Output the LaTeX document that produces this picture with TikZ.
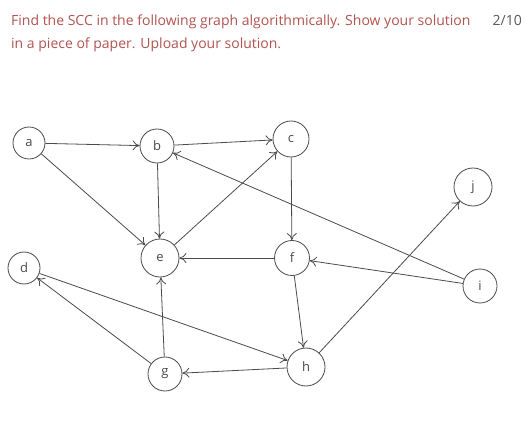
\documentclass[tikz,border=0pt]{standalone}
\usepackage{fontspec}
\setmainfont{Open Sans}
\usetikzlibrary{arrows.meta}
\definecolor{qred}{RGB}{178,84,80}
\definecolor{qgray}{RGB}{90,90,90}
\definecolor{ink}{RGB}{75,75,75}
\begin{document}
\begin{tikzpicture}[x=1pt,y=-1pt,
  vert/.style={circle,draw=ink,line width=0.8pt,inner sep=0pt,text=ink,font=\fontsize{13}{13}\selectfont},
  edge/.style={draw=ink,line width=0.8pt,-{To[length=7pt,width=10pt]}},
  qtext/.style={anchor=base west,inner sep=0pt,font=\fontsize{14}{15}\selectfont}]
\useasboundingbox[fill=white] (0,0) rectangle (530,438);
\node[qtext,text=qred] (t1) at (11,26) {Find the SCC in the following graph algorithmically. Show your solution};
\node[qtext,text=qgray,anchor=base east] (t2) at (522,26) {2/10};
\node[qtext,text=qred] (t3) at (11,49) {in a piece of paper. Upload your solution.};
\node[vert,minimum size=32pt] (a) at (29,143) {a};
\node[vert,minimum size=34pt] (b) at (157,146) {b};
\node[vert,minimum size=36pt] (c) at (291,139) {c};
\node[vert,minimum size=38pt] (e) at (160,258) {e};
\node[vert,minimum size=35pt] (f) at (292,258) {f};
\node[vert,minimum size=38pt] (j) at (473,187) {j};
\node[vert,minimum size=34pt] (i) at (480,286) {i};
\node[vert,minimum size=32pt] (d) at (24,268) {d};
\node[vert,minimum size=34pt] (g) at (165,374) {g};
\node[vert,minimum size=38pt] (h) at (306,367) {h};
\draw[edge] (a) -- (b);
\draw[edge] (a) -- (e);
\draw[edge] (b) -- (c);
\draw[edge] (b) -- (e);
\draw[edge] (e) -- (c);
\draw[edge] (c) -- (f);
\draw[edge] (f) -- (e);
\draw[edge] (i) -- (b);
\draw[edge] (i) -- (f);
\draw[edge] (h) -- (j);
\draw[edge] (f) -- (h);
\draw[edge] (d) -- (h);
\draw[edge] (g) -- (d);
\draw[edge] (g) -- (e);
\draw[edge] (h) -- (g);
\end{tikzpicture}
\end{document}
